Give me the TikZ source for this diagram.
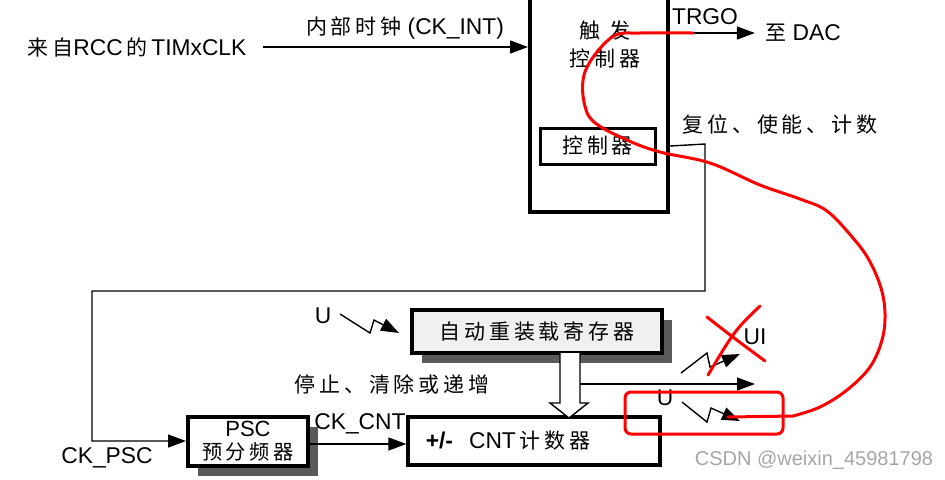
\documentclass[tikz,border=0pt]{standalone}
\usepackage{fontspec}
\setmainfont{Liberation Sans}
\newfontfamily\cjk{Noto Sans CJK SC}
\newfontfamily\cjkw[LetterSpace=18,Scale=0.92]{Noto Sans CJK SC}
\usetikzlibrary{positioning,calc,arrows.meta,shadows}

\begin{document}
\begin{tikzpicture}[
    x=0.5pt, y=-0.5pt,
    every node/.style={font=\fontsize{11.4}{13}\selectfont, inner sep=0pt},
    blk/.style={draw, line width=2pt, fill=white},
    sub/.style={draw, line width=1.5pt, fill=white},
    shd/.style={general shadow={fill=black!65, shadow xshift=5pt, shadow yshift=-5pt}},
    sig/.style={line width=0.7pt, -{Triangle[length=9pt,width=6.5pt]}},
    plain/.style={line width=0.7pt},
    bolt/.style={line width=0.7pt, -{Triangle[length=9pt,width=6.5pt]}},
    redpen/.style={red, line width=1.5pt, line cap=round, line join=round},
]
\useasboundingbox (0,0) rectangle (945,479);

% =====================================================================
% Clock input and trigger controller
% =====================================================================
\node (clk) at (137,47) {{\cjkw 来自}RCC\,{\cjk\fontsize{10.5}{12}\selectfont 的}\,TIMxCLK};
\node (ckint) at (405,28) {{\cjkw 内部时钟} (CK\_INT)};

\node[blk, minimum width=69pt, minimum height=111pt] (trig) at (599,101) {};
\node[align=center] (trigtxt) at (605,44) {{\cjkw 触\ 发}\\[1pt]{\cjkw 控制器}};
\node[sub, minimum width=57.5pt, minimum height=18pt] (ctrl) at (597.5,146) {\cjkw 控制器};

\draw[sig] ([xshift=8pt]clk.east) -- (clk.east -| trig.west);

% TRGO output
\node (dac) at (803,33) {{\cjk\fontsize{10.5}{12}\selectfont 至} DAC};
\node (trgo) at (705,17) {TRGO};
\draw[sig] (trig.east |- dac.west) -- ([xshift=-5pt]dac.west);

% Reset / enable / count line back to the prescaler
\node (rst) at (780,124) {\cjkw 复位、使能、计数};
\node (ckpsc) at (107,458) {CK\_PSC};

% =====================================================================
% Prescaler, counter and auto-reload register
% =====================================================================
\node[blk, shd, minimum width=60pt, minimum height=24.5pt, align=center,
      font=\fontsize{11}{11.2}\selectfont] (psc) at (248,441) {PSC\\{\cjkw 预分频器}};
\node[blk, line width=1.6pt, minimum width=126pt, minimum height=24pt] (cnt) at (534,441) {};
\node (cnttxt) at (508,441) {\textbf{+/-}\hspace{8pt}CNT\,{\cjkw 计数器}};
\node[blk, shd, fill=black!6, minimum width=125pt, minimum height=21.5pt] (arr) at (537,331.5) {\cjkw 自动重装载寄存器};

\draw[sig] (trig.east |- ctrl.east) -- (705,144) -- (705,291) -- (92,291) |- (psc.west);
\node (ckcnt) at (360,424) {CK\_CNT};
\draw[sig] (psc.east |- 0,444) -- (cnt.west |- 0,444);

% Hollow transfer arrow ARR -> CNT
\draw[plain, fill=white] (560,353) -- (560,403) -- (550,403) -- (569,418)
    -- (588,403) -- (580,403) -- (580,353);
\coordinate (tap) at (580,384);
\draw[sig] (tap) -- (755,384);
\node (stop) at (392,384) {\cjkw 停止、清除或递增};

% Update events
\node (u1) at (323,316) {U};
\draw[bolt] (340,314) -- (370,333) -- (374,320) -- (399,333);
\node (ui) at (755,337) {UI};
\draw[bolt] (681,373) -- (707,353) -- (710,367) -- (740,354);
\node (u2) at (665,398) {U};
\draw[bolt] (682,402) -- (707,422) -- (711,408) -- (740,421);

% =====================================================================
% Hand-drawn red notes
% =====================================================================
\draw[redpen] plot[smooth, tension=0.6] coordinates {(693,33) (640,33) (616,35) (597,52)
    (584,75) (584,102) (594,122) (627,140) (660,152) (710,163) (760,185) (800,199)
    (827,211) (853,238) (869,260) (881,288) (885,314) (882,340) (870,367) (847,390)
    (820,407) (793,416)} -- (728,417);
\draw[redpen, rounded corners=3pt] (625,392) rectangle (783,434);
\draw[redpen] (707,317) .. controls (730,335) .. (765,361);
\draw[redpen] (760,306) .. controls (735,330) .. (708,375);

\node[text=black!35, font=\fontsize{10}{12}\selectfont] (wm) at (814,460) {CSDN @weixin\_45981798};
\end{tikzpicture}
\end{document}
